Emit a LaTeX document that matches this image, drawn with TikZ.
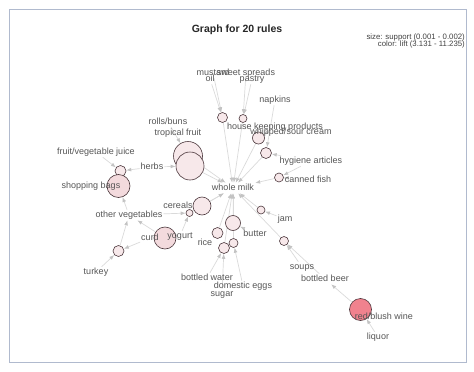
\documentclass[tikz,border=0pt]{standalone}
\usepackage{fontspec}
\setmainfont{Liberation Sans}
\usepackage{xcolor}
\usepackage{tikz}
\usetikzlibrary{arrows.meta,backgrounds}
\definecolor{itemtext}{RGB}{85, 85, 85}
\definecolor{edgegray}{RGB}{218, 218, 218}
\definecolor{tipgray}{RGB}{195, 195, 195}
\definecolor{ruleline}{RGB}{75, 55, 60}
\definecolor{rulepink}{RGB}{247, 232, 234}
\definecolor{rulerose}{RGB}{243, 218, 221}
\definecolor{winered}{RGB}{240, 130, 142}
\definecolor{framegray}{RGB}{176, 186, 206}

\begin{document}
\begin{tikzpicture}[x=1pt, y=-1pt,
    item/.style={text=itemtext, font=\fontsize{9}{10}\selectfont, inner sep=1pt, text height=6.4pt, text depth=1.8pt},
    rule/.style={circle, draw=ruleline, line width=0.6pt, fill=rulepink, inner sep=0pt, minimum size=#1},
    rule/.default=9pt,
    edge/.style={draw=edgegray, line width=0.7pt, -{Latex[length=5pt, width=3.8pt, color=tipgray]}}]
    \useasboundingbox (0,0) rectangle (474,372);
    \draw[framegray, line width=0.8pt] (9.5,9) rectangle (466,362);

    % Title and legend
    \node[font=\bfseries\fontsize{10.5}{12}\selectfont, text=black!85] (title) at (237,30) {Graph for 20 rules};
    \node[anchor=east, align=right, inner sep=0pt, text=black!75, font=\fontsize{7.8}{7.4}\selectfont] (legend) at (465,41) {size: support (0.001 - 0.002)\\color: lift (3.131 - 11.235)};

    % Rules
    \node[rule=10pt] (r_a) at (222.5,117.5) {};
    \node[rule=8pt] (r_b) at (243,118.5) {};
    \node[rule=12pt] (r_c) at (258.5,138) {};
    \node[rule=11pt] (r_d) at (266,153) {};
    \node[rule=9pt] (r_e) at (279,177.5) {};
    \node[rule=29pt] (r_f) at (188,156) {};
    \node[rule=28pt] (r_g) at (190,166) {};
    \node[rule=11pt] (r_h) at (120.5,171) {};
    \node[rule=23pt, fill=rulerose] (r_i) at (118.5,186) {};
    \node[rule=18pt] (r_j) at (202,206) {};
    \node[rule=7pt] (r_k) at (189.5,213) {};
    \node[rule=22pt, fill=rulerose] (r_l) at (165,238) {};
    \node[rule=11pt] (r_m) at (118.5,251) {};
    \node[rule=11pt] (r_n) at (217.5,233) {};
    \node[rule=15pt] (r_o) at (233,223) {};
    \node[rule=11pt] (r_p) at (224,248) {};
    \node[rule=9pt] (r_q) at (233.5,243) {};
    \node[rule=8pt] (r_r) at (261,210) {};
    \node[rule=9pt] (r_s) at (284,241) {};
    \node[rule=22pt, fill=winered] (r_t) at (360.5,309.5) {};

    % Items
    \node[item] (mustard) at (213,73) {mustard};
    \node[item] (oil) at (210,79) {oil};
    \node[item] (sweetspreads) at (246,73) {sweet spreads};
    \node[item] (pastry) at (252,79) {pastry};
    \node[item] (napkins) at (275,100) {napkins};
    \node[item] (housekeeping) at (275,127) {house keeping products};
    \node[item] (whipped) at (291,132) {whipped/sour cream};
    \node[item] (hygiene) at (311,161) {hygiene articles};
    \node[item] (cannedfish) at (308,180) {canned fish};
    \node[item] (rollsbuns) at (168,122) {rolls/buns};
    \node[item] (tropical) at (178,133) {tropical fruit};
    \node[item] (fvjuice) at (96,152) {fruit/vegetable juice};
    \node[item] (herbs) at (152,167) {herbs};
    \node[item] (shopbags) at (91,186) {shopping bags};
    \node[item] (wholemilk) at (233,188) {whole milk};
    \node[item] (cereals) at (178,206) {cereals};
    \node[item] (othervegs) at (129,215) {other vegetables};
    \node[item] (curd) at (150,238) {curd};
    \node[item] (yogurt) at (180,236) {yogurt};
    \node[item] (rice) at (205,243) {rice};
    \node[item] (turkey) at (96,272) {turkey};
    \node[item] (butter) at (255,234) {butter};
    \node[item] (jam) at (285,219) {jam};
    \node[item] (bwater) at (207,278) {bottled water};
    \node[item] (domeggs) at (243,286) {domestic eggs};
    \node[item] (sugar) at (222,294) {sugar};
    \node[item] (soups) at (302,267) {soups};
    \node[item] (bbeer) at (325,279) {bottled beer};
    \node[item] (redwine) at (384,317) {red/blush wine};
    \node[item] (liquor) at (378,337) {liquor};

    % Connectors
    \begin{scope}[on background layer]
    \draw[edge] (mustard) -- (r_a);
    \draw[edge] (oil) -- (r_a);
    \draw[edge] (r_a) -- (wholemilk);
    \draw[edge] (sweetspreads) -- (r_b);
    \draw[edge] (pastry) -- (r_b);
    \draw[edge] (r_b) -- (wholemilk);
    \draw[edge] (housekeeping) -- (r_c);
    \draw[edge] (whipped) -- (r_c);
    \draw[edge] (r_c) -- (wholemilk);
    \draw[edge] (napkins) -- (r_d);
    \draw[edge] (hygiene) -- (r_d);
    \draw[edge] (r_d) -- (wholemilk);
    \draw[edge] (cannedfish) -- (r_e);
    \draw[edge] (hygiene) -- (r_e);
    \draw[edge] (r_e) -- (wholemilk);
    \draw[edge] (rollsbuns) -- (r_f);
    \draw[edge] (r_f) -- (wholemilk);
    \draw[edge] (herbs) -- (r_g);
    \draw[edge] (r_g) -- (wholemilk);
    \draw[edge] (fvjuice) -- (r_h);
    \draw[edge] (herbs) -- (r_h);
    \draw[edge] (othervegs) -- (r_i);
    \draw[edge] (r_j) -- (wholemilk);
    \draw[edge] (othervegs) -- (r_k);
    \draw[edge] (yogurt) -- (r_k);
    \draw[edge] (r_k) -- (wholemilk);
    \draw[edge] (r_l) -- (othervegs);
    \draw[edge] (turkey) -- (r_m);
    \draw[edge] (curd) -- (r_m);
    \draw[edge] (r_m) -- (othervegs);
    \draw[edge] (r_n) -- (wholemilk);
    \draw[edge] (butter) -- (r_o);
    \draw[edge] (r_o) -- (wholemilk);
    \draw[edge] (bwater) -- (r_p);
    \draw[edge] (sugar) -- (r_p);
    \draw[edge] (r_p) -- (wholemilk);
    \draw[edge] (domeggs) -- (r_q);
    \draw[edge] (r_q) -- (wholemilk);
    \draw[edge] (jam) -- (r_r);
    \draw[edge] (r_r) -- (wholemilk);
    \draw[edge] (soups) -- (r_s);
    \draw[edge] (bbeer) -- (r_s);
    \draw[edge] (r_s) -- (wholemilk);
    \draw[edge] (liquor) -- (r_t);
    \draw[edge] (r_t) -- (bbeer);
    \end{scope}
\end{tikzpicture}
\end{document}
